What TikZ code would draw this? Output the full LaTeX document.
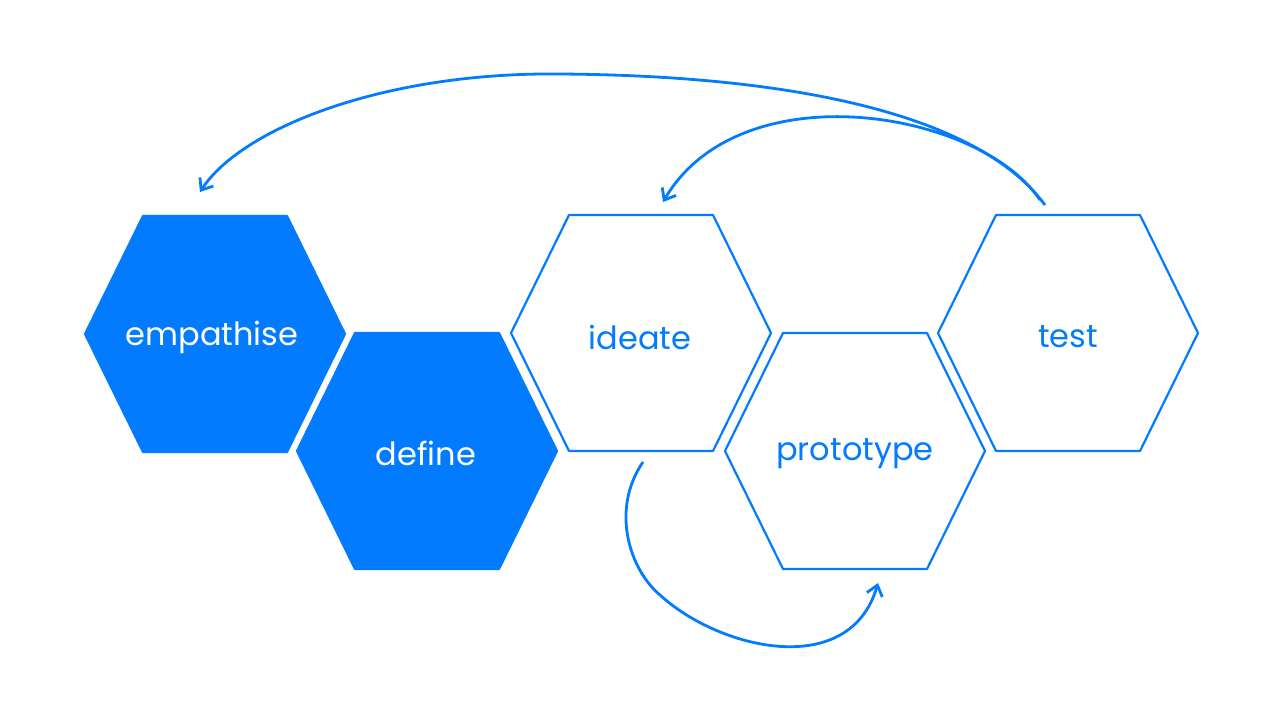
\documentclass[tikz,border=0pt]{standalone}
\usepackage{fontspec}
\setmainfont{Poppins}
\usetikzlibrary{arrows.meta}
\definecolor{bl}{HTML}{037BFF}
\begin{document}
\begin{tikzpicture}[x=1pt,y=-1pt,
  lbl/.style={font=\fontsize{32}{38}\selectfont},
  arr/.style={draw=bl,line width=2.8pt,-{Straight Barb[length=10pt,width=16pt]}},
  hex/.style={line width=2.2pt,draw=bl,line join=round}]
\useasboundingbox (0,0) rectangle (1280,720);
\newcommand\hexa[4]{% cx cy style
  \path[hex,#3] (#1-72,#2-118) -- (#1+72,#2-118) -- (#1+130,#2) -- (#1+72,#2+118) -- (#1-72,#2+118) -- (#1-130,#2) -- cycle;}
\hexa{215}{334}{fill=bl}{}
\hexa{427}{451}{fill=bl}{}
\hexa{641}{333}{fill=white}{}
\hexa{855}{451}{fill=white}{}
\hexa{1068}{333}{fill=white}{}
\node[lbl,text=white] (emp) at (212,337) {empathise};
\node[lbl,text=white] (def) at (426,453) {define};
\node[lbl,text=bl] (ide) at (640,337) {ideate};
\node[lbl,text=bl] (pro) at (855,454) {prototype};
\node[lbl,text=bl] (tes) at (1068,337) {test};
\coordinate (t1) at (1045,205);
\coordinate (t2) at (1040,200);
\coordinate (e1) at (200,192);
\coordinate (i1) at (663,202);
\coordinate (i2) at (643,462);
\coordinate (p1) at (878,583);
\draw[arr] (t1) .. controls (960,90) and (700,75) .. (560,74) .. controls (380,72) and (240,130) .. (e1);
\draw[arr] (t2) .. controls (980,110) and (740,70) .. (i1);
\draw[arr] (i2) .. controls (610,510) and (630,570) .. (660,595) .. controls (720,650) and (850,680) .. (p1);
\end{tikzpicture}
\end{document}
